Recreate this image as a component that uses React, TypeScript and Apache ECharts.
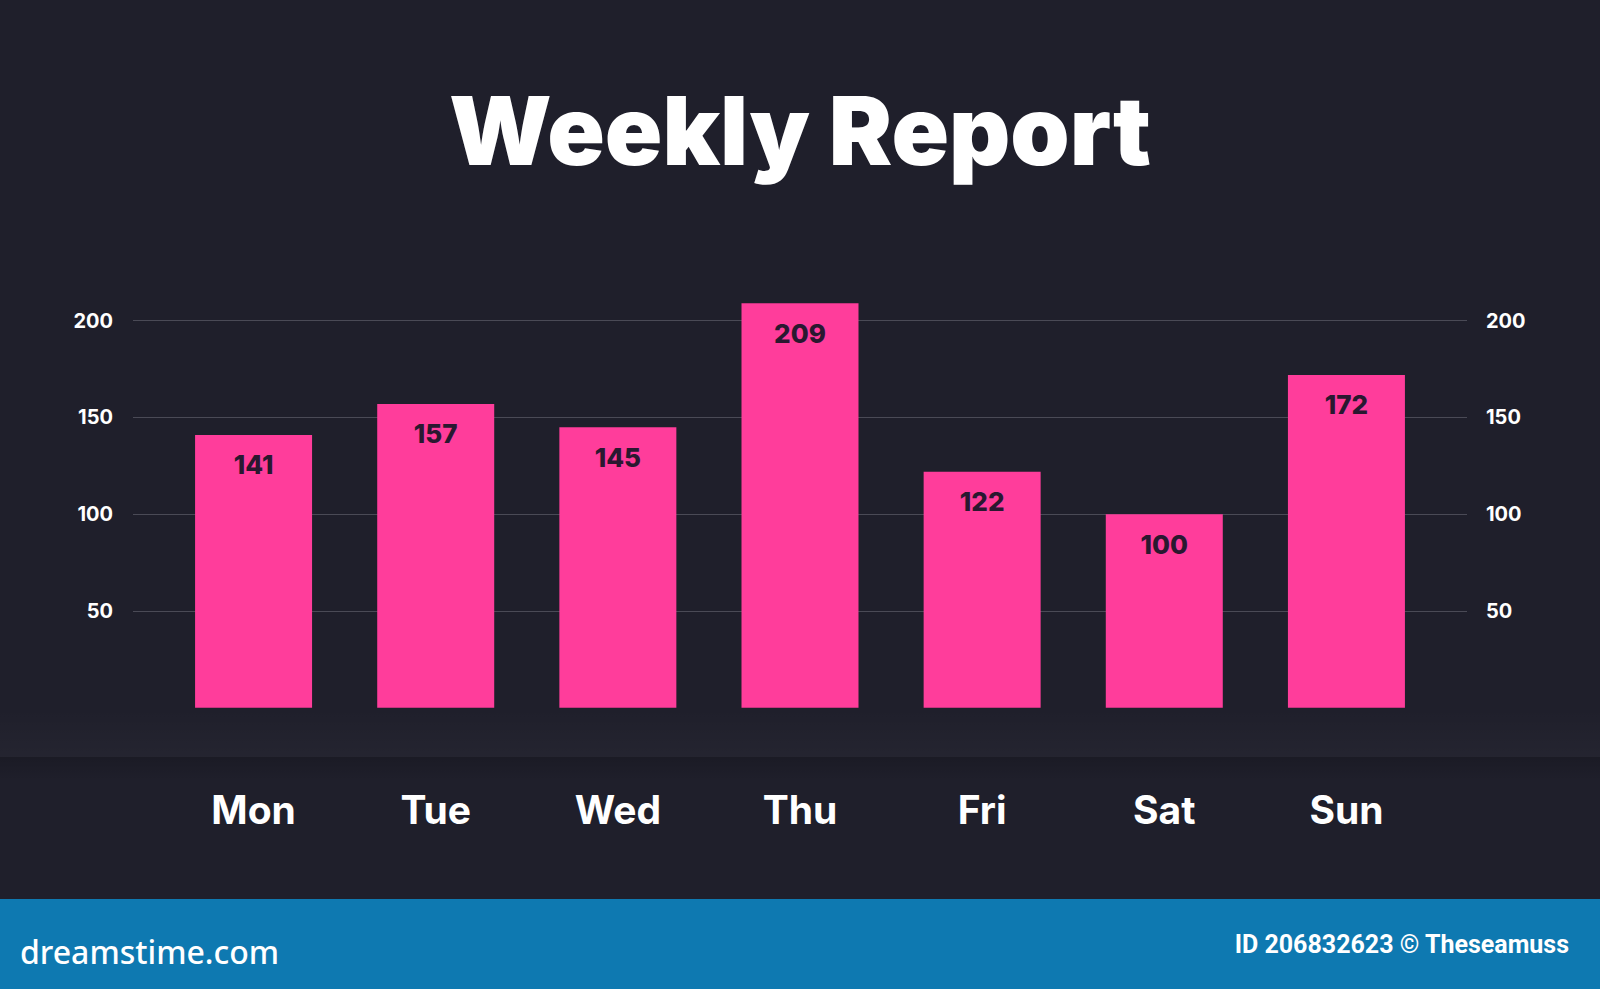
import React, { useEffect, useRef } from "react";
import * as echarts from "echarts";

const categories = ["Mon", "Tue", "Wed", "Thu", "Fri", "Sat", "Sun"];
const values = [141, 157, 145, 209, 122, 100, 172];
const yTicks = [50, 100, 150, 200];

const TITLE = "Weekly Report";
const FONT = "Inter, 'Open Sans', sans-serif";

export default function App() {
  const ref = useRef<HTMLDivElement>(null);
  useEffect(() => {
    document.body.style.margin = "0";
    if (!ref.current) return;
    const chart = echarts.init(ref.current, null, { renderer: "svg" });
    const top = 320.7;
    const zeroY = 707.8;
    chart.setOption({
      animation: false,
      backgroundColor: "#1f1f2b",
      title: {
        text: TITLE,
        left: "center",
        top: 78,
        textStyle: { color: "#ffffff", fontFamily: FONT, fontWeight: 900, fontSize: 95 },
      },
      grid: [
        { left: 133, right: 133, top: top, height: 611 - top, containLabel: false },
        { left: 162.5, right: 162.5, top: top, height: zeroY - top, containLabel: false },
      ],
      xAxis: [
        { type: "value", gridIndex: 0, show: false },
        {
          type: "category",
          gridIndex: 1,
          data: categories,
          axisLine: { show: false },
          axisTick: { show: false },
          axisLabel: {
            color: "#ffffff",
            fontFamily: FONT,
            fontWeight: 700,
            fontSize: 39,
            margin: 82,
          },
        },
      ],
      yAxis: [
        {
          type: "value",
          gridIndex: 0,
          min: 50,
          max: 200,
          interval: 50,
          position: "left",
          axisLine: { show: false },
          axisTick: { show: false },
          axisLabel: {
            color: "#ffffff",
            fontFamily: FONT,
            fontWeight: 700,
            fontSize: 20,
            margin: 20,
            formatter: (v: number) => (yTicks.includes(v) ? String(v) : ""),
          },
          splitLine: { show: true, lineStyle: { color: "#4a4a56", width: 1 } },
        },
        {
          type: "value",
          gridIndex: 0,
          min: 50,
          max: 200,
          interval: 50,
          position: "right",
          axisLine: { show: false },
          axisTick: { show: false },
          axisLabel: {
            color: "#ffffff",
            fontFamily: FONT,
            fontWeight: 700,
            fontSize: 20,
            margin: 19,
            formatter: (v: number) => (yTicks.includes(v) ? String(v) : ""),
          },
          splitLine: { show: false },
        },
        {
          type: "value",
          gridIndex: 1,
          min: 0,
          max: 200,
          show: false,
          splitLine: { show: false },
        },
      ],
      graphic: [
        {
          type: "rect",
          shape: { x: 0, y: 709, width: 1600, height: 48 },
          style: {
            fill: new echarts.graphic.LinearGradient(0, 0, 0, 1, [
              { offset: 0, color: "rgba(255,255,255,0)" },
              { offset: 1, color: "rgba(255,255,255,0.025)" },
            ]),
          },
          z: -1,
        },
        {
          type: "rect",
          shape: { x: 0, y: 757, width: 1600, height: 24 },
          style: {
            fill: new echarts.graphic.LinearGradient(0, 0, 0, 1, [
              { offset: 0, color: "rgba(0,0,0,0.14)" },
              { offset: 1, color: "rgba(0,0,0,0)" },
            ]),
          },
          z: -1,
        },
        {
          type: "rect",
          shape: { x: 0, y: 899, width: 1600, height: 90 },
          style: { fill: "#0e79b1" },
          z: 10,
        },
        {
          type: "text",
          x: 20,
          y: 951,
          style: {
            text: "dreamstime.com",
            fill: "#ffffff",
            font: "500 32px 'Noto Sans', sans-serif",
            textVerticalAlign: "middle",
          },
          z: 11,
        },
        {
          type: "text",
          x: 1569,
          y: 944,
          style: {
            text: "ID 206832623 © Theseamuss",
            fill: "#ffffff",
            font: "700 25px Roboto, sans-serif",
            textAlign: "right",
            textVerticalAlign: "middle",
          },
          z: 11,
        },
      ],
      series: [
        {
          type: "bar",
          xAxisIndex: 1,
          yAxisIndex: 2,
          data: values,
          barWidth: 117,
          clip: false,
          itemStyle: { color: "#ff3d9b" },
          label: {
            show: true,
            position: "insideTop",
            distance: 17,
            color: "#2a1830",
            fontFamily: FONT,
            fontWeight: 800,
            fontSize: 26,
          },
        },
      ],
    });
    return () => chart.dispose();
  }, []);
  return <div ref={ref} style={{ width: 1600, height: 989 }} />;
}
